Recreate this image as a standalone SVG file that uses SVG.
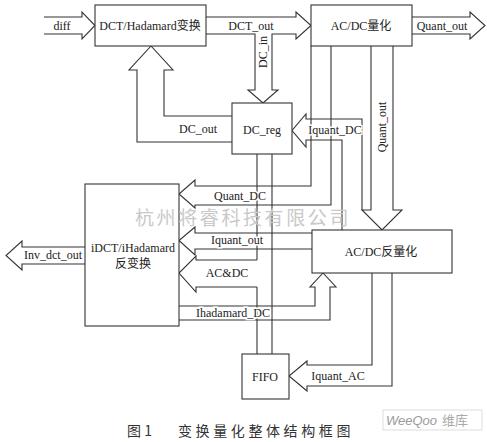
<svg xmlns="http://www.w3.org/2000/svg" width="487" height="442" viewBox="0 0 487 442">
<defs>
<style>
.box{fill:#fff;stroke:#333;stroke-width:1.1}
.ln{fill:none;stroke:#333;stroke-width:1.1;stroke-linejoin:miter}
.t{font-family:"Liberation Serif","Noto Sans CJK SC",serif;font-size:12px;fill:#222;text-anchor:middle}
.h{paint-order:stroke;stroke:#fff;stroke-width:3px}
.wm{font-family:"Noto Sans CJK SC",sans-serif;font-size:19px;fill:#c9c9c9;letter-spacing:2.6px}
.cap{font-family:"Noto Sans CJK SC",serif;font-size:14px;fill:#333}
</style>
</defs>
<rect width="487" height="442" fill="#fff"/>
<g id="connectors">
<path class="ln" d="M44,17H82V12L95,25.5L82,39V34H44"/>
<path class="ln" d="M206,17H296V12L311,25.5L296,39V34H272V90H278L263,103L248,90H255V34H206"/>
<path class="ln" d="M412,17H470V12L485,25.5L470,39V34H412"/>
<path class="ln" d="M232,116H164V70H173L151,46L129,70H137V142H232"/>
<path class="ln" d="M311,46V186H195V180L179,194L195,208V205H331V46"/>
<path class="ln" d="M342,230V140H306V147L292,130.5L306,114V119H362V210"/>
<path class="ln" d="M371,46V210H362L382,230L402,210H393V46"/>
<path class="ln" d="M312,233H195V227L179,240.5L195,255V249H312"/>
<path class="ln" d="M257,260H196V256L179,273L196,292V287H257"/>
<path class="ln" d="M257,154V260M257,287V354M272,154V354"/>
<path class="ln" d="M179,306H315V287H310L323,273L336,287H330V320H179"/>
<path class="ln" d="M372,273V365H307V361L289,376L307,391V386H392V273"/>
<path class="ln" d="M85,247H22V241L6,255.5L22,270V264H85"/>
</g>
<g id="n_dct"><rect class="box" x="95" y="5" width="111" height="41"/><text class="t" x="150" y="30">DCT/Hadamard变换</text></g>
<g id="n_quant"><rect class="box" x="311" y="5" width="101" height="41"/><text class="t" x="361" y="30">AC/DC量化</text></g>
<g id="n_dcreg"><rect class="box" x="232" y="103" width="60" height="51"/><text class="t" x="262" y="134">DC_reg</text></g>
<g id="n_idct"><rect class="box" x="85" y="184" width="94" height="142"/><text class="t" x="133" y="252">iDCT/iHadamard</text><text class="t" x="133" y="268">反变换</text></g>
<g id="n_iquant"><rect class="box" x="312" y="230" width="140" height="43"/><text class="t" x="381" y="256">AC/DC反量化</text></g>
<g id="n_fifo"><rect class="box" x="242" y="354" width="47" height="45"/><text class="t" x="265" y="381">FIFO</text></g>
<g id="labels">
<text class="t" x="62" y="30">diff</text>
<text class="t" x="251" y="30">DCT_out</text>
<text class="t" x="442" y="30">Quant_out</text>
<text class="t h" transform="translate(267,52) rotate(-90)">DC_in</text>
<text class="t" transform="translate(386,127) rotate(-90)">Quant_out</text>
<text class="t" x="198" y="133">DC_out</text>
<text class="t h" x="335" y="134">Iquant_DC</text>
<text class="t h" x="240" y="200">Quant_DC</text>
<text class="t h" x="237" y="244">Iquant_out</text>
<text class="t h" x="227" y="277">AC&amp;DC</text>
<text class="t h" x="233" y="317">Ihadamard_DC</text>
<text class="t" x="53" y="259">Inv_dct_out</text>
<text class="t" x="338" y="380">Iquant_AC</text>
</g>
<text class="wm" x="135" y="225">杭州将睿科技有限公司</text>
<text class="cap" x="127" y="436">图 1</text>
<text class="cap" x="178" y="436" letter-spacing="3.6">变换量化整体结构框图</text>
<rect x="383" y="410" width="99" height="20" fill="#fff" stroke="#ddd"/>
<text x="386" y="425" font-family="Liberation Sans,sans-serif" font-style="italic" font-size="13" fill="#9a9a9a">WeeQoo</text>
<text x="442" y="425" font-family="Noto Sans CJK SC,sans-serif" font-size="13" fill="#a8a8a8">维库</text>
</svg>
